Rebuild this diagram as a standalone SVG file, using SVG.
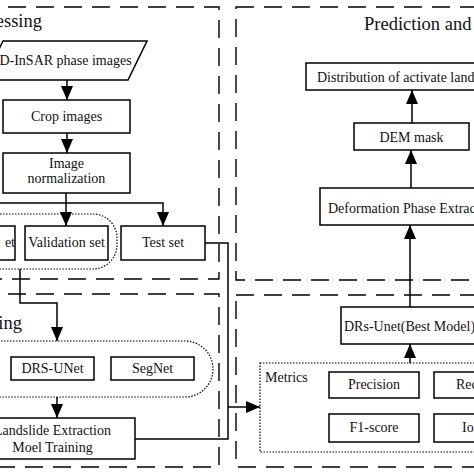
<svg xmlns="http://www.w3.org/2000/svg" width="474" height="474" viewBox="0 0 474 474">
<defs>
<style>
.panel{fill:none;stroke:#000;stroke-width:1.4;stroke-dasharray:18 10}
.box{fill:#fff;stroke:#000;stroke-width:1.5}
.dot{fill:none;stroke:#000;stroke-width:1.2;stroke-dasharray:1.5 1.5}
.ln{fill:none;stroke:#000;stroke-width:1.5}
text{font-family:"Liberation Serif","Times New Roman",serif;font-size:14px;fill:#111}
.t{font-size:18.5px}
.c{text-anchor:middle}
</style>
<marker id="ah" viewBox="0 0 14 12" refX="14" refY="6" markerWidth="14" markerHeight="12" markerUnits="userSpaceOnUse" orient="auto">
<path d="M0,0 L14,6 L0,12 z" fill="#000"/>
</marker>
</defs>
<rect width="474" height="474" fill="#fff"/>
<g id="panels">
<rect class="panel" x="-20" y="7" width="239" height="272"/>
<rect class="panel" x="236" y="7" width="260" height="273"/>
<rect class="panel" x="-20" y="294" width="239" height="173"/>
<rect class="panel" x="236" y="295" width="260" height="172"/>
<text class="t" x="42" y="27" text-anchor="end">essing</text>
<text class="t" x="364" y="30">Prediction and</text>
<text class="t" x="22" y="329" text-anchor="end">ing</text>
</g>
<g id="groups">
<rect class="dot" x="-30" y="214" width="147" height="55" rx="24"/>
<rect class="dot" x="-30" y="341" width="243" height="56" rx="28"/>
<rect class="dot" x="260" y="363" width="240" height="89"/>
<text x="265" y="382">Metrics</text>
</g>
<g id="connectors">
<line class="ln" x1="67" y1="80" x2="67" y2="100" marker-end="url(#ah)"/>
<line class="ln" x1="67" y1="133" x2="67" y2="153" marker-end="url(#ah)"/>
<line class="ln" x1="66" y1="193" x2="66" y2="226" marker-end="url(#ah)"/>
<polyline class="ln" points="-5,203 163,203 163,226" marker-end="url(#ah)"/>
<polyline class="ln" points="20,269 20,303 57,303 57,341" marker-end="url(#ah)"/>
<line class="ln" x1="57" y1="397" x2="57" y2="418" marker-end="url(#ah)"/>
<polyline class="ln" points="205,243 228,243 228,439 135,439"/>
<line class="ln" x1="228" y1="407" x2="260" y2="407" marker-end="url(#ah)"/>
<line class="ln" x1="410" y1="363" x2="410" y2="344" marker-end="url(#ah)"/>
<line class="ln" x1="410" y1="307" x2="410" y2="225" marker-end="url(#ah)"/>
<line class="ln" x1="411" y1="188" x2="411" y2="150" marker-end="url(#ah)"/>
<line class="ln" x1="412" y1="123" x2="412" y2="90" marker-end="url(#ah)"/>
</g>
<g id="n-insar">
<polygon class="box" points="3,41 147,41 128,80 -16,80"/>
<text class="c" x="65.5" y="65">D-InSAR phase images</text>
</g>
<g id="n-crop">
<rect class="box" x="3" y="100" width="127" height="33"/>
<text class="c" x="66.5" y="121">Crop images</text>
</g>
<g id="n-norm">
<rect class="box" x="3" y="153" width="127" height="40"/>
<text class="c" x="66.5" y="168">Image</text>
<text class="c" x="66.5" y="183">normalization</text>
</g>
<g id="n-train">
<rect class="box" x="-70" y="226" width="85" height="34"/>
<text x="15" y="247" text-anchor="end">et</text>
</g>
<g id="n-val">
<rect class="box" x="25" y="226" width="83" height="34"/>
<text class="c" x="66.5" y="247">Validation set</text>
</g>
<g id="n-test">
<rect class="box" x="121" y="226" width="84" height="34"/>
<text class="c" x="163" y="247">Test set</text>
</g>
<g id="n-drsunet">
<rect class="box" x="11" y="357" width="83" height="23"/>
<text class="c" x="52.5" y="373">DRS-UNet</text>
</g>
<g id="n-segnet">
<rect class="box" x="111" y="357" width="83" height="23"/>
<text class="c" x="152.5" y="373">SegNet</text>
</g>
<g id="n-training">
<rect class="box" x="-31" y="418" width="166" height="41"/>
<text class="c" x="52.5" y="435">Landslide Extraction</text>
<text class="c" x="52.5" y="452">Moel Training</text>
</g>
<g id="n-dist">
<rect class="box" x="306" y="63" width="220" height="27"/>
<text x="317" y="82">Distribution of activate landslides</text>
</g>
<g id="n-dem">
<rect class="box" x="354" y="123" width="115" height="27"/>
<text class="c" x="411.5" y="142">DEM mask</text>
</g>
<g id="n-deform">
<rect class="box" x="320" y="188" width="200" height="37"/>
<text x="328" y="213">Deformation Phase Extraction</text>
</g>
<g id="n-best">
<rect class="box" x="341" y="307" width="180" height="37"/>
<text x="344" y="331">DRs-Unet(Best Model)</text>
</g>
<g id="n-precision">
<rect class="box" x="329" y="372" width="90" height="26"/>
<text class="c" x="374" y="389">Precision</text>
</g>
<g id="n-recall">
<rect class="box" x="434" y="372" width="90" height="26"/>
<text x="456" y="389">Recall</text>
</g>
<g id="n-f1">
<rect class="box" x="329" y="414" width="90" height="28"/>
<text class="c" x="374" y="432">F1-score</text>
</g>
<g id="n-iou">
<rect class="box" x="434" y="414" width="90" height="28"/>
<text x="462" y="432">IoU</text>
</g>
</svg>
